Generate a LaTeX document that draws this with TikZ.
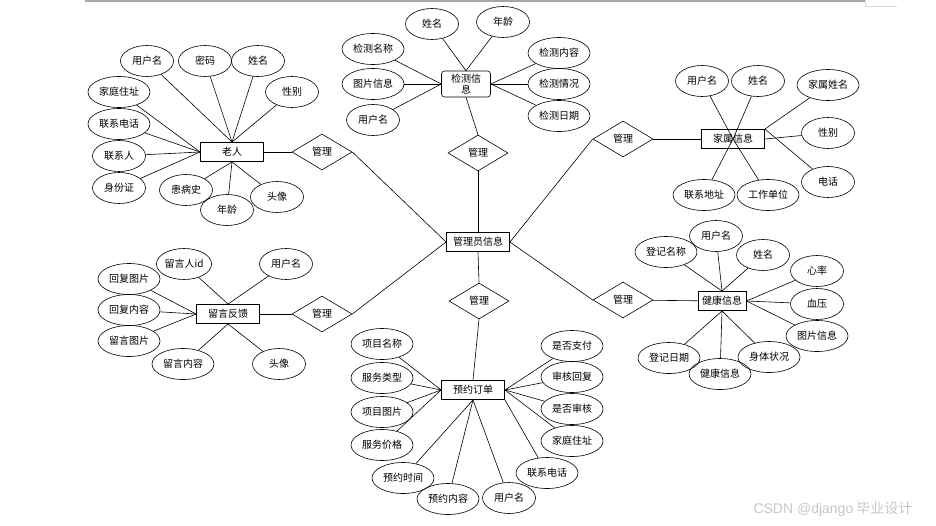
\documentclass[tikz,border=0pt]{standalone}
\usepackage{fontspec}
\setmainfont{Noto Sans CJK SC}
\newfontfamily\wm{Liberation Sans}
\usetikzlibrary{shapes.geometric}
\begin{document}
\begin{tikzpicture}[x=1pt,y=-1pt,line width=0.6pt,
  every node/.style={font=\fontsize{10}{12}\selectfont,inner sep=0pt},
  attr/.style={ellipse,draw,minimum width=53pt,minimum height=31pt},
  wattr/.style={ellipse,draw,minimum width=62pt,minimum height=31pt},
  ent/.style={rectangle,draw,line width=0.9pt,minimum width=63pt,minimum height=19pt},
  rel/.style={diamond,draw,minimum width=60pt,minimum height=36pt}]
\useasboundingbox (0,0) rectangle (936,525);
\draw[gray!70,line width=2pt] (85,1) -- (865,1);
\draw[gray!30,line width=0.5pt] (865,0) -- (865,6) -- (897,6);
% central
\node[ent] (adm) at (478,242) {管理员信息};
% 老人
\node[ent] (old) at (232,152) {老人};
\node[rel] (r1) at (322,152) {管理};
\node[attr] (o1) at (147,61) {用户名};
\node[attr] (o2) at (205,61) {密码};
\node[attr] (o3) at (258,61) {姓名};
\node[attr] (o4) at (292,92) {性别};
\node[wattr] (o5) at (119,92) {家庭住址};
\node[wattr] (o6) at (119,124) {联系电话};
\node[attr] (o7) at (119,156) {联系人};
\node[attr] (o8) at (119,188) {身份证};
\node[attr] (o9) at (186,190) {患病史};
\node[attr] (o10) at (227,210) {年龄};
\node[attr] (o11) at (277,197) {头像};
\foreach \a in {o1,o2,o3,o4} \draw (\a) -- (old.north);
\foreach \a in {o5,o6,o7,o8} \draw (\a) -- (old.west);
\foreach \a in {o9,o10,o11} \draw (\a) -- (old.south);
\draw (old) -- (r1);
\draw (r1.east) -- (adm.west);
% 检测信息
\node[rectangle,draw,rounded corners=3pt,minimum width=49pt,minimum height=26pt,align=center,font=\fontsize{10}{11}\selectfont] (chk) at (466,84) {检测信\\息};
\node[rel] (r2) at (478,153) {管理};
\node[attr] (c1) at (432,24) {姓名};
\node[attr] (c2) at (503,22) {年龄};
\node[wattr] (c3) at (373,49) {检测名称};
\node[wattr] (c4) at (373,84) {图片信息};
\node[attr] (c5) at (373,120) {用户名};
\node[wattr] (c6) at (559,53) {检测内容};
\node[wattr] (c7) at (559,84) {检测情况};
\node[wattr] (c8) at (559,116) {检测日期};
\foreach \a in {c1,c2} \draw (\a) -- (chk.north);
\foreach \a in {c3,c4,c5} \draw (\a) -- (chk.west);
\foreach \a in {c6,c7,c8} \draw (\a) -- (chk.east);
\draw (chk.south) -- (r2.north);
\draw (r2.south) -- (adm.north);
% 家属信息
\node[ent] (fam) at (733,139) {家属信息};
\node[rel] (r3) at (623,139) {管理};
\node[attr] (f1) at (702,81) {用户名};
\node[attr] (f2) at (758,81) {姓名};
\node[wattr] (f3) at (828,85) {家属姓名};
\node[attr] (f4) at (828,133) {性别};
\node[attr] (f5) at (828,182) {电话};
\node[wattr] (f6) at (704,195) {联系地址};
\node[wattr] (f7) at (768,195) {工作单位};
\foreach \a in {f1,f2,f6,f7} \draw (\a) -- (fam.center);
\draw (f3) -- (fam.north east);
\draw (f4) -- (fam.east);
\draw (f5) -- (fam.north east);
\draw (r3) -- (fam);
\draw (r3.west) -- (adm.east);
% 留言反馈
\node[ent] (msg) at (228,314) {留言反馈};
\node[rel] (r4) at (322,314) {管理};
\node[attr] (m1) at (184,264) {留言人id};
\node[attr] (m2) at (286,264) {用户名};
\node[wattr] (m3) at (129,279) {回复图片};
\node[wattr] (m4) at (129,310) {回复内容};
\node[wattr] (m5) at (129,341) {留言图片};
\node[wattr] (m6) at (183,364) {留言内容};
\node[attr] (m7) at (279,364) {头像};
\foreach \a in {m1,m2} \draw (\a) -- (msg.north);
\foreach \a in {m3,m4,m5} \draw (\a) -- (msg.west);
\foreach \a in {m6,m7} \draw (\a) -- (msg.south);
\draw (msg) -- (r4);
\draw (r4.east) -- (adm.west);
% 预约订单
\node[ent] (ord) at (473,390) {预约订单};
\node[rel] (r5) at (479,301) {管理};
\node[wattr] (p1) at (382,344) {项目名称};
\node[wattr] (p2) at (382,378) {服务类型};
\node[wattr] (p3) at (382,412) {项目图片};
\node[wattr] (p4) at (382,445) {服务价格};
\node[wattr] (p5) at (403,478) {预约时间};
\node[wattr] (p6) at (448,499) {预约内容};
\node[attr] (p7) at (509,498) {用户名};
\node[wattr] (p8) at (572,346) {是否支付};
\node[wattr] (p9) at (572,377) {审核回复};
\node[wattr] (p10) at (572,409) {是否审核};
\node[wattr] (p11) at (572,441) {家庭住址};
\node[wattr] (p12) at (547,473) {联系电话};
\foreach \a in {p1,p2,p3,p4} \draw (\a) -- (ord.west);
\foreach \a in {p5,p6,p7} \draw (\a) -- (ord.south);
\foreach \a in {p8,p9,p10,p11} \draw (\a) -- (ord.east);
\draw (p12) -- (ord.south east);
\draw (r5.south) -- (ord.north);
\draw (r5.north) -- (adm.south);
% 健康信息
\node[ent,minimum width=48pt] (hl) at (722,301) {健康信息};
\node[rel] (r6) at (623,300) {管理};
\node[wattr] (h1) at (666,252) {登记名称};
\node[attr] (h3) at (763,255) {姓名};
\node[attr] (h2) at (716,236) {用户名};
\node[attr] (h4) at (817,271) {心率};
\node[attr] (h5) at (817,304) {血压};
\node[wattr] (h6) at (817,336) {图片信息};
\node[wattr] (h9) at (669,358) {登记日期};
\node[wattr] (h7) at (769,357) {身体状况};
\node[wattr] (h8) at (720,374) {健康信息};
\foreach \a in {h1,h2,h3} \draw (\a) -- (hl.north);
\foreach \a in {h4,h5,h6} \draw (\a) -- (hl.east);
\foreach \a in {h7,h8,h9} \draw (\a) -- (hl.south);
\draw (r6) -- (hl);
\draw (r6.west) -- (adm.east);
% watermark
\node[font=\fontsize{14}{16}\selectfont,text=gray!45] (wm) at (833,509) {{\wm CSDN @django} 毕业设计};
\end{tikzpicture}
\end{document}
